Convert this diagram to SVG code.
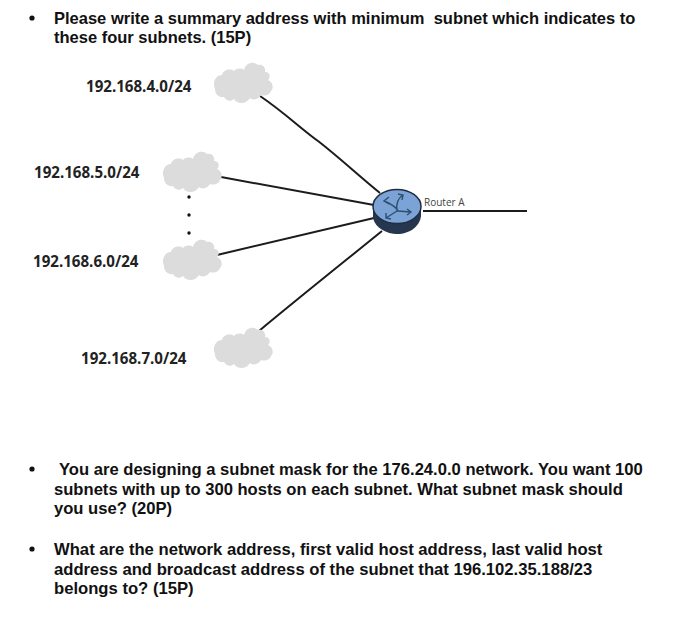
<svg xmlns="http://www.w3.org/2000/svg" width="681" height="630" viewBox="0 0 681 630">
<defs>
<style>
.q{font:bold 16.6px "Liberation Sans",Arial,sans-serif;fill:#111;white-space:pre}
.q1{font-size:16.5px}
.q3{font-size:16.65px}
.l{font:bold 15.1px "Open Sans","DejaVu Sans",sans-serif;fill:#222}
.r{font:10px "Open Sans","DejaVu Sans",sans-serif;fill:#444}
.c{stroke:#1c1c1c;stroke-width:2;fill:none}
.ar{stroke:#2d4f72;stroke-width:1.4;fill:none}
</style>
<path id="cloud" fill="#dcdcdc" d="M-28,6 C-31,-1 -27,-8 -21,-8 C-20,-13 -13,-15 -9,-12 C-6,-15 -2,-15 1,-13 C3,-21 11,-22 15,-18 C20,-19 23,-15 22,-11 C27,-11 28,-6 25,-3 C30,-1 31,5 28,8 C26,13 21,13 18,12 C16,16 10,18 7,15 C3,22 -6,21 -9,16 C-12,19 -17,18 -19,14 C-24,15 -28,11 -28,6 Z"/>
<circle id="dot" r="1.7" fill="#111"/>
</defs>
<rect width="681" height="630" fill="#fff"/>
<g id="connectors">
<path class="c" d="M260,96 C285,113 300,128 318,141 C340,158 360,177 380,193"/>
<path class="c" d="M221,177 L374,205"/>
<path class="c" d="M217,255 L374,218"/>
<path class="c" d="M259,331 C290,305 340,265 382,231"/>
<path class="c" d="M423,211 L527,211"/>
</g>
<g id="cloud-1"><use href="#cloud" x="243" y="83"/></g>
<g id="cloud-2"><use href="#cloud" x="192" y="172"/></g>
<g id="cloud-3"><use href="#cloud" x="192" y="260"/></g>
<g id="cloud-4"><use href="#cloud" x="243" y="348"/></g>
<g id="dots"><use href="#dot" x="189" y="197"/><use href="#dot" x="189" y="215"/><use href="#dot" x="189" y="233"/></g>
<g id="router-a">
<path fill="#26364e" d="M373,206 L373,218 C375,228 387,234 397,234 C410,234 420,226 421,216 L421,206 Z"/>
<ellipse cx="397" cy="206.500" rx="24" ry="17" fill="#7ba3d6" stroke="#1f2d42" stroke-width="1.5"/>
<path class="ar" d="M384,201 C390,203 397,208 398,211 L411,212 M389,197 L384,201 L389,204 M403,195 C398,198 396,204 397,211 L386,218 M398,194 L403,195 L402,200 M386,213 L386,218 L391,219 M407,209 L411,212 L407,215"/>
</g>
<text class="q q1" xml:space="preserve"><tspan x="54" y="24">Please write a summary address with minimum  subnet which indicates to</tspan><tspan x="54" y="43">these four subnets. (15P)</tspan></text>
<text class="l" x="86" y="92">192.168.4.0/24</text>
<text class="l" x="34" y="178">192.168.5.0/24</text>
<text class="l" x="33" y="267">192.168.6.0/24</text>
<text class="l" x="81" y="364">192.168.7.0/24</text>
<text class="r" x="424" y="206">Router A</text>
<text class="q"><tspan x="59" y="475">You are designing a subnet mask for the 176.24.0.0 network. You want 100</tspan><tspan x="54" y="495">subnets with up to 300 hosts on each subnet. What subnet mask should</tspan><tspan x="54" y="514">you use? (20P)</tspan></text>
<text class="q q3"><tspan x="54" y="555">What are the network address, first valid host address, last valid host</tspan><tspan x="54" y="575">address and broadcast address of the subnet that 196.102.35.188/23</tspan><tspan x="54" y="594">belongs to? (15P)</tspan></text>
<g id="bullets" fill="#111"><circle cx="32" cy="18" r="2.6"/><circle cx="32" cy="469" r="2.6"/><circle cx="32" cy="549" r="2.6"/></g>
</svg>
